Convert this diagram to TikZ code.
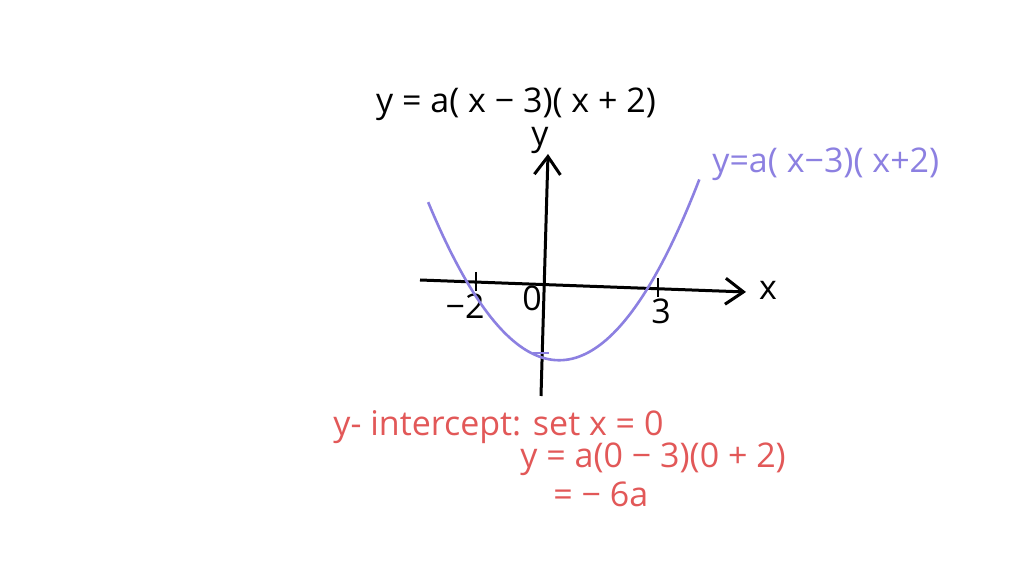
\documentclass[tikz,border=0pt]{standalone}
\usepackage{fontspec}
\setmainfont{Open Sans}
\usetikzlibrary{arrows.meta}
\definecolor{mypurple}{RGB}{140,128,225}
\definecolor{myred}{RGB}{226,88,88}

\begin{document}
\begin{tikzpicture}[x=0.5pt,y=-0.5pt]
	\tikzset{hand/.style={inner sep=0pt,font=\fontsize{17}{20}\selectfont}}
	\tikzset{axis/.style={-{Straight Barb[length=9pt,width=13pt]}, line width=1.5pt}}
	\tikzset{curve/.style={mypurple, line width=1.3pt}}
	\useasboundingbox[fill=white] (0,0) rectangle (1024,576);
	
	\node(title) at (516,104) [hand] {y = a( x − 3)( x + 2)};
	
	\coordinate(x_start) at (420,280);
	\coordinate(x_end) at (746,292);
	\coordinate(y_start) at (541,396);
	\coordinate(y_end) at (548,154);
	
	\draw[axis] (x_start) -- (x_end);
	\draw[axis] (y_start) -- (y_end);
	
	\node(lbl_y) at (540,140) [hand] {y};
	\node(lbl_x) at (768,290) [hand] {x};
	
	% ticks
	\coordinate(tick_m2a) at (476,272);
	\coordinate(tick_m2b) at (476,291);
	\coordinate(tick_3a) at (658,278);
	\coordinate(tick_3b) at (658,297);
	\draw[line width=1.3pt] (tick_m2a) -- (tick_m2b);
	\draw[line width=1.3pt] (tick_3a) -- (tick_3b);
	
	\node(lbl_m2) at (465,306) [hand] {−2};
	\node(lbl_0) at (532,298) [hand] {0};
	\node(lbl_3) at (661,311) [hand] {3};
	
	% parabola
	\draw[curve] plot[domain=-3.1:4.35, samples=80, smooth] ({541+36.4*\x},{284-12.2*(\x-3)*(\x+2)});
	\coordinate(yint_a) at (533,353);
	\coordinate(yint_b) at (549,353);
	\draw[curve] (yint_a) -- (yint_b);
	
	\node(curve_lbl) at (712,164) [hand, mypurple, anchor=west] {y=a( x−3)( x+2)};
	
	\node(red1) at (333,427) [hand, myred, anchor=west] {y- intercept: set x = 0};
	\node(red2) at (520,459) [hand, myred, anchor=west] {y = a(0 − 3)(0 + 2)};
	\node(red3) at (553,494) [hand, myred, anchor=west] {= − 6a};
	
\end{tikzpicture}
\end{document}
